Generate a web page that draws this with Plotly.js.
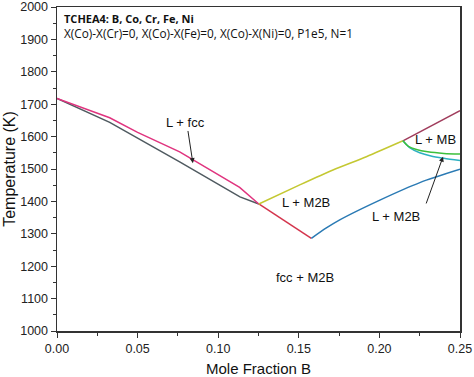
<!DOCTYPE html>
<html><head><meta charset="utf-8">
<script src="https://cdn.plot.ly/plotly-3.0.1.min.js"></script>
<style>html,body{margin:0;padding:0;background:#fff}#plot{width:474px;height:377px}</style>
</head><body><div id="plot"></div>
<script>
// Phase boundaries (Mole fraction B, Temperature K)
const liquidusFccX = [0, 0.0327, 0.05, 0.0761, 0.1133, 0.1252];
const liquidusFccT = [1718, 1658, 1613, 1553, 1443, 1392];
const solidusFccX = [0, 0.0327, 0.0761, 0.1135, 0.1252];
const solidusFccT = [1718, 1644, 1522, 1414, 1392];
const redX = [0.1252, 0.1578];
const redT = [1392, 1286];
const liquidusM2BX = [0.1252, 0.1506, 0.1712, 0.1919, 0.2146];
const liquidusM2BT = [1392, 1451, 1497, 1538, 1587];
const liquidusMBX = [0.2146, 0.25];
const liquidusMBT = [1587, 1680];
const greenX = [0.2146, 0.218, 0.223, 0.23, 0.24, 0.25];
const greenT = [1587, 1570, 1560, 1553, 1548, 1546];
const tealX = [0.2146, 0.219, 0.225, 0.232, 0.24, 0.25];
const tealT = [1587, 1565, 1550, 1540, 1533, 1526];
const blueX = [0.1578, 0.1671, 0.1754, 0.2003, 0.2251, 0.25];
const blueT = [1286, 1318, 1343, 1404, 1458, 1499];

const xTickVals = [0, 0.05, 0.10, 0.15, 0.20, 0.25];
const xTickText = ['0.00', '0.05', '0.10', '0.15', '0.20', '0.25'];
const yTickVals = [1000, 1100, 1200, 1300, 1400, 1500, 1600, 1700, 1800, 1900, 2000];

const headerLine1 = 'TCHEA4: B, Co, Cr, Fe, Ni';
const headerLine2 = 'X(Co)-X(Cr)=0, X(Co)-X(Fe)=0, X(Co)-X(Ni)=0, P1e5, N=1';

function line(x, y, color, smooth) {
  return {x: x, y: y, type: 'scatter', mode: 'lines',
    line: {color: color, width: 1.5, shape: smooth ? 'spline' : 'linear', smoothing: 0.8},
    hoverinfo: 'skip', showlegend: false};
}
const traces = [
  line(solidusFccX, solidusFccT, '#4f5a60', false),
  line(liquidusFccX, liquidusFccT, '#e0347f', false),
  line(redX, redT, '#d4354d', false),
  line(liquidusM2BX, liquidusM2BT, '#c4c832', true),
  line(liquidusMBX, liquidusMBT, '#a03c5c', false),
  line(tealX, tealT, '#2cb0c0', true),
  line(greenX, greenT, '#3cc03c', true),
  line(blueX, blueT, '#2a7ab4', true)
];

const lblFont = {family: 'Liberation Sans, Arial, sans-serif', size: 13, color: '#111'};
const annotations = [
  {xref: 'paper', yref: 'paper', x: 0.012, y: 0.995, xanchor: 'left', yanchor: 'top', showarrow: false,
   text: '<b>' + headerLine1 + '</b>', font: {family: 'Open Sans, sans-serif', size: 11, color: '#111'}},
  {xref: 'paper', yref: 'paper', x: 0.012, y: 0.952, xanchor: 'left', yanchor: 'top', showarrow: false,
   text: headerLine2, font: {family: 'Open Sans, sans-serif', size: 11.8, color: '#111'}},
  {x: 0.0798, y: 1645, text: 'L + fcc', showarrow: false, font: lblFont},
  {x: 0.0843, y: 1518, ax: 0.0811, ay: 1622, axref: 'x', ayref: 'y', text: '', showarrow: true,
   arrowhead: 2, arrowsize: 1, arrowwidth: 1, arrowcolor: '#222'},
  {x: 0.1545, y: 1398, text: 'L + M2B', showarrow: false, font: lblFont},
  {x: 0.1537, y: 1165, text: 'fcc + M2B', showarrow: false, font: lblFont},
  {x: 0.2105, y: 1352, text: 'L + M2B', showarrow: false, font: lblFont},
  {x: 0.2395, y: 1538, ax: 0.2287, ay: 1389, axref: 'x', ayref: 'y', text: '', showarrow: true,
   arrowhead: 2, arrowsize: 1, arrowwidth: 1, arrowcolor: '#222'},
  {x: 0.2349, y: 1590, text: 'L + MB', showarrow: false, font: lblFont}
];

const axisFont = {family: 'Liberation Sans, Arial, sans-serif', size: 12.5, color: '#222'};
const layout = {
  width: 474, height: 377,
  margin: {l: 57, r: 14, t: 7, b: 46},
  paper_bgcolor: '#fff', plot_bgcolor: '#fff',
  showlegend: false,
  xaxis: {
    range: [0, 0.25], tickvals: xTickVals, ticktext: xTickText,
    showgrid: false, zeroline: false, showline: true, linecolor: '#333', linewidth: 1.5, mirror: true,
    ticks: 'outside', ticklen: 5, tickwidth: 1, tickcolor: '#333', tickfont: axisFont,
    minor: {dtick: 0.025, tick0: 0, ticks: 'outside', ticklen: 3, tickcolor: '#333', showgrid: false},
    title: {text: 'Mole Fraction B', font: {family: 'Liberation Sans, Arial, sans-serif', size: 15, color: '#111'}, standoff: 10}
  },
  yaxis: {
    range: [1000, 2000], tickvals: yTickVals,
    showgrid: false, zeroline: false, showline: true, linecolor: '#333', linewidth: 1.5, mirror: true,
    ticks: 'outside', ticklen: 5, tickwidth: 1, tickcolor: '#333', tickfont: axisFont,
    minor: {dtick: 50, tick0: 1000, ticks: 'outside', ticklen: 3, tickcolor: '#333', showgrid: false},
    title: {text: 'Temperature (K)', font: {family: 'Liberation Sans, Arial, sans-serif', size: 16, color: '#111'}, standoff: 0}
  },
  annotations: annotations
};
Plotly.newPlot('plot', traces, layout, {displayModeBar: false, staticPlot: true});
</script></body></html>
